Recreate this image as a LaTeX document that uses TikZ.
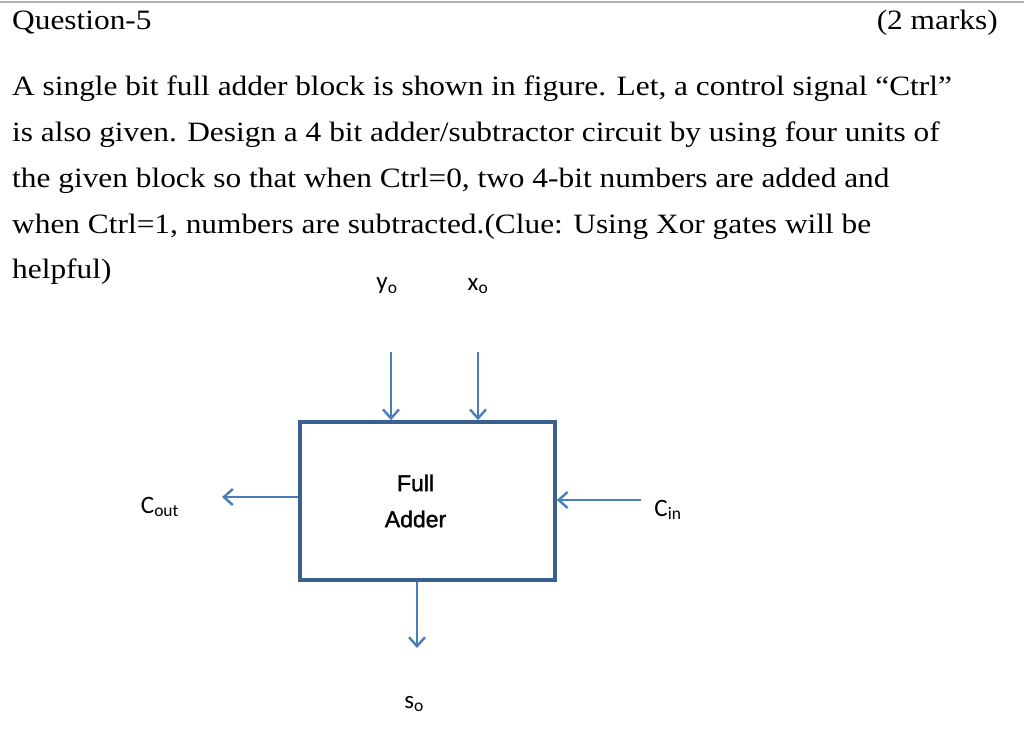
\documentclass[tikz,border=0pt]{standalone}
\usepackage{fontspec}
\setmainfont{Liberation Serif}[FakeStretch=1.12]
\newfontfamily\lblfont{Carlito}
\newfontfamily\bfont{Liberation Sans}[FakeBold=1.5]
\usetikzlibrary{arrows.meta}
\definecolor{arr}{HTML}{4A7EBB}
\definecolor{bx}{HTML}{3B5F8E}
\begin{document}
\begin{tikzpicture}[x=1pt,y=-1pt,
  txt/.style={anchor=base west,inner sep=0,font=\fontsize{28}{32}\selectfont},
  lbl/.style={inner sep=0,font=\lblfont\fontsize{25}{30}\selectfont},
  wire/.style={draw=arr,line width=2.6pt,-{Straight Barb[length=9pt,width=16pt,line width=2.4pt]}}]
\useasboundingbox (0,0) rectangle (1024,744);
\draw[gray!60,line width=1.5pt] (0,2) -- (1024,2);
\node[txt] (q) at (12,29) {Question-5};
\node[txt,anchor=base east] (m) at (998,29) {(2 marks)};
\node[txt] (l1) at (12,95) {A single bit full adder block is shown in figure. Let, a control signal ``Ctrl''};
\node[txt] (l2) at (12,141) {is also given. Design a 4 bit adder/subtractor circuit by using four units of};
\node[txt] (l3) at (12,187) {the given block so that when Ctrl=0, two 4-bit numbers are added and};
\node[txt] (l4) at (12,233) {when Ctrl=1, numbers are subtracted.(Clue: Using Xor gates will be};
\node[txt] (l5) at (12,278) {helpful)};
\node[draw=bx,line width=3.6pt,minimum width=255pt,minimum height=158pt,inner sep=0,
  font=\bfont\fontsize{23}{36}\selectfont,align=center] (fa) at (427.5,501)
  {\hspace*{-24pt}Full\\\hspace*{-24pt}Adder};
\node[lbl] (y) at (387,286) {y\textsubscript{o}};
\node[lbl] (x) at (478,286) {x\textsubscript{o}};
\node[lbl] (co) at (160,507) {C\textsubscript{out}};
\node[lbl] (ci) at (668,510) {C\textsubscript{in}};
\node[lbl] (s) at (414,704) {s\textsubscript{o}};
\coordinate (ya) at (391,352);
\coordinate (xa) at (478,352);
\coordinate (coe) at (222,497);
\coordinate (cia) at (641,500);
\coordinate (se) at (417,648);
\draw[wire] (ya) -- (ya |- fa.north);
\draw[wire] (xa) -- (xa |- fa.north);
\draw[wire] (fa.west |- coe) -- (coe);
\draw[wire] (cia) -- (fa.east |- cia);
\draw[wire] (se |- fa.south) -- (se);
\end{tikzpicture}
\end{document}
